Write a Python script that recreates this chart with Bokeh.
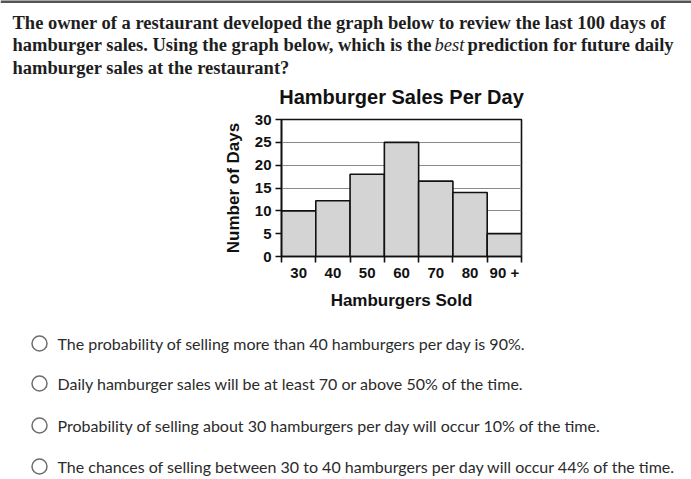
from bokeh.plotting import figure
from bokeh.layouts import column
from bokeh.models import Range1d, FixedTicker, ColumnDataSource
from bokeh.core.properties import value
from bokeh.embed import file_html
from bokeh.resources import INLINE

# ---- data ----
chart_title = "Hamburger Sales Per Day"
bin_labels = ["30", "40", "50", "60", "70", "80", "90 +"]
days = [10, 12.2, 18, 25, 16.5, 14, 5]
y_ticks = [0, 5, 10, 15, 20, 25, 30]

question_lines = [
    "The owner of a restaurant developed the graph below to review the last 100 days of",
    "hamburger sales. Using the graph below, which is the",
    "best",
    "prediction for future daily",
    "hamburger sales at the restaurant?",
]
options = [
    "The probability of selling more than 40 hamburgers per day is 90%.",
    "Daily hamburger sales will be at least 70 or above 50% of the time.",
    "Probability of selling about 30 hamburgers per day will occur 10% of the time.",
    "The chances of selling between 30 to 40 hamburgers per day will occur 44% of the time.",
]

W = 691
SERIF = value("Liberation Serif")
SANS = value("Liberation Sans")
LATO = value("Lato")

def blank(fig):
    fig.axis.visible = False
    fig.grid.visible = False
    fig.outline_line_color = None
    fig.min_border = 0

# ---- top text figure (page y 0..108) ----
TOP_H = 108
top = figure(width=W, height=TOP_H, x_range=Range1d(0, W), y_range=Range1d(TOP_H, 0),
             output_backend="svg", toolbar_location=None, frame_align=False)
blank(top)
# thin dark rule along the top edge
top.segment(x0=[0], x1=[W], y0=[1], y1=[1], line_color="#555555", line_width=3)
qx = [12, 12, 434, 467, 12]
qy = [22, 44.5, 44.5, 44.5, 67]
qstyle = ["bold", "bold", "italic", "bold", "bold"]
for t, x, y, st in zip(question_lines, qx, qy, qstyle):
    top.text(x=[x], y=[y], text=[t], text_font=SERIF, text_font_style=st,
             text_font_size="18.5px", text_color="#1e1e1e",
             text_baseline="alphabetic", text_align="left")
# chart title
top.text(x=[401], y=[96.5], text=[chart_title], text_font=SANS, text_font_style="bold",
         text_font_size="20px", text_color="#111111",
         text_baseline="middle", text_align="center")

# ---- chart figure (page y 108..315) ----
n = len(days)
chart = figure(width=W, height=315 - TOP_H, x_range=Range1d(0, n), y_range=Range1d(0, 30),
               output_backend="svg", toolbar_location=None, frame_align=False,
               min_border_left=281, min_border_right=170,
               min_border_top=119 - TOP_H, min_border_bottom=59)

src = ColumnDataSource(dict(left=list(range(n)), right=[i + 1 for i in range(n)],
                            top=days, bottom=[0] * n))
chart.quad(left="left", right="right", top="top", bottom="bottom", source=src,
           fill_color="#d4d4d4", line_color="#111111", line_width=1.6)

chart.outline_line_color = "#111111"
chart.outline_line_width = 1.6
chart.xgrid.visible = False
chart.ygrid.ticker = FixedTicker(ticks=y_ticks[1:-1])
chart.ygrid.grid_line_color = "#8a8a8a"
chart.ygrid.grid_line_width = 1.2

centers = [i + 0.5 for i in range(n)]
chart.xaxis.ticker = FixedTicker(ticks=centers, minor_ticks=list(range(n + 1)))
chart.xaxis.major_label_overrides = {c: lab for c, lab in zip(centers, bin_labels)}
chart.xaxis.major_tick_out = 0
chart.xaxis.major_tick_in = 0
chart.xaxis.minor_tick_out = 6
chart.xaxis.minor_tick_in = 0
chart.xaxis.minor_tick_line_color = "#111111"
chart.xaxis.minor_tick_line_width = 1.6
chart.xaxis.axis_label = "Hamburgers Sold"

chart.yaxis.ticker = FixedTicker(ticks=y_ticks)
chart.yaxis.major_tick_out = 6
chart.yaxis.major_tick_in = 0
chart.yaxis.minor_tick_out = 0
chart.yaxis.minor_tick_in = 0
chart.yaxis.major_tick_line_width = 1.6
chart.yaxis.major_tick_line_color = "#111111"
chart.yaxis.axis_label = "Number of Days"

for ax in (chart.xaxis, chart.yaxis):
    ax.axis_line_color = "#111111"
    ax.axis_line_width = 1.6
    ax.major_label_text_font = "Liberation Sans"
    ax.major_label_text_font_style = "bold"
    ax.major_label_text_font_size = "15px"
    ax.major_label_text_color = "#111111"
    ax.axis_label_text_font = "Liberation Sans"
    ax.axis_label_text_font_style = "bold"
    ax.axis_label_text_font_size = "17px"
    ax.axis_label_text_color = "#111111"
chart.xaxis.major_label_standoff = 1
chart.xaxis.axis_label_standoff = 7
chart.yaxis.major_label_standoff = 4
chart.yaxis.axis_label_standoff = 9

# ---- bottom options figure (page y 315..479) ----
bot = figure(width=W, height=164, x_range=Range1d(0, W), y_range=Range1d(479, 315),
             output_backend="svg", toolbar_location=None, frame_align=False)
blank(bot)
oy = [343, 383, 425, 466]
bot.scatter(x=[39] * len(options), y=oy, marker="circle", size=15,
            fill_color="white", line_color="#6e6e6e", line_width=1.5)
bot.text(x=[57] * len(options), y=oy, text=options, text_font=LATO,
         text_font_size="16px", text_color="#2b2b2b",
         text_baseline="middle", text_align="left")

layout = column(top, chart, bot, spacing=0)
open("out.html", "w").write(file_html(layout, INLINE))
